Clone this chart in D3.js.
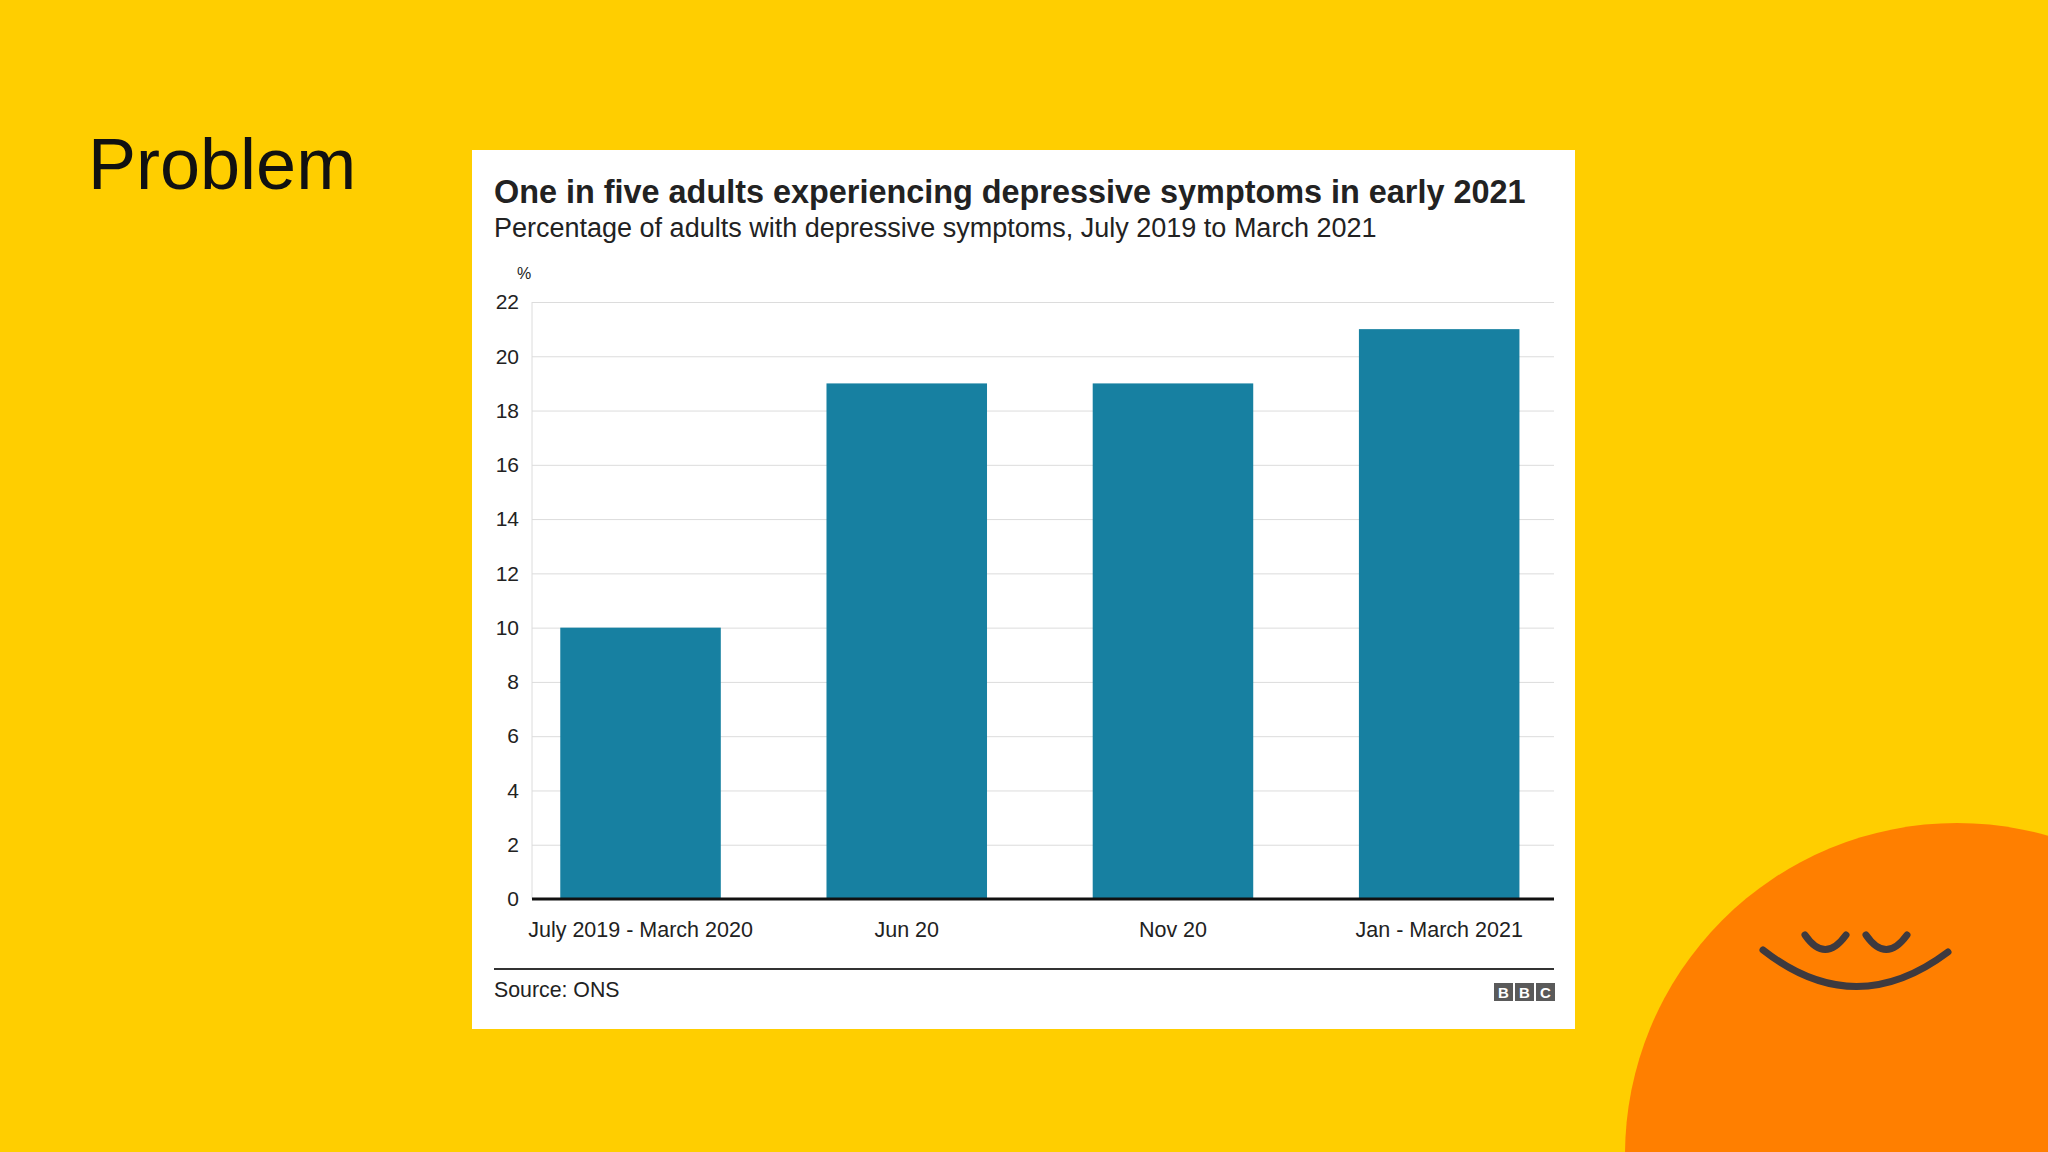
<!doctype html>
<html>
  <head>
    <script src="https://cdn.jsdelivr.net/npm/d3@7/dist/d3.min.js"></script>
    <style>
      body, html {
        margin: 0;
        background: #ffce00;
      }
      svg {
        display: block;
        font-family: "Liberation Sans", Arial, sans-serif;
      }
      .grid line {
        stroke: #dcdcdc;
        stroke-width: 1px;
      }
      .grid path {
        display: none;
      }
      .grid text {
        font-size: 21px;
        fill: #222;
      }
      .xaxis path, .xaxis line {
        display: none;
      }
      .xaxis text {
        font-size: 21.5px;
        fill: #222;
      }
    </style>
  </head>
  <body>
    <svg width="2048" height="1152"></svg>
    <script>
      var categories = ["July 2019 - March 2020", "Jun 20", "Nov 20", "Jan - March 2021"];
      var values = [10, 19, 19, 21];
      var yTicks = [0, 2, 4, 6, 8, 10, 12, 14, 16, 18, 20, 22];

      var svg = d3.select("svg");

      // orange blob with the sleepy face, bottom right
      svg.append("circle")
        .attr("cx", 1957).attr("cy", 1155).attr("r", 332)
        .attr("fill", "#ff7f00");

      var face = svg.append("g")
        .attr("fill", "none")
        .attr("stroke", "#3e3a3f")
        .attr("stroke-width", 7)
        .attr("stroke-linecap", "round");
      face.append("path").attr("d", "M1763,950 Q1855,1022 1948,952");
      face.append("path").attr("d", "M1805,935 Q1825,964 1846,935");
      face.append("path").attr("d", "M1866,935 Q1886,964 1907,935");

      svg.append("text")
        .attr("x", 88).attr("y", 189)
        .attr("font-size", 72)
        .attr("fill", "#111")
        .text("Problem");

      // white card
      svg.append("rect")
        .attr("x", 472).attr("y", 150)
        .attr("width", 1103).attr("height", 879)
        .attr("fill", "#fff");

      svg.append("text")
        .attr("x", 494).attr("y", 203)
        .attr("font-size", 32.4).attr("font-weight", "bold")
        .attr("fill", "#222")
        .text("One in five adults experiencing depressive symptoms in early 2021");

      svg.append("text")
        .attr("x", 494).attr("y", 237)
        .attr("font-size", 27)
        .attr("fill", "#222")
        .text("Percentage of adults with depressive symptoms, July 2019 to March 2021");

      var plotLeft = 532, plotRight = 1554, plotTop = 302, plotBottom = 899;

      var y = d3.scaleLinear().domain([0, 22]).range([plotBottom, plotTop]);
      var x = d3.scaleBand().domain(categories)
        .range([plotLeft, plotRight]).paddingInner(0.397).paddingOuter(0.118).align(0.45);

      svg.append("text")
        .attr("x", 517).attr("y", 279)
        .attr("font-size", 16).attr("fill", "#222")
        .text("%");

      svg.append("g")
        .attr("class", "grid")
        .attr("transform", "translate(" + plotLeft + ",0)")
        .call(d3.axisLeft(y).tickValues(yTicks).tickSize(-(plotRight - plotLeft)).tickPadding(13));

      // light vertical line on the left edge of the plot
      svg.append("line")
        .attr("x1", plotLeft).attr("x2", plotLeft)
        .attr("y1", y(22)).attr("y2", y(0))
        .attr("stroke", "#dcdcdc");

      svg.selectAll("rect.bar")
        .data(values)
        .enter()
        .append("rect")
          .attr("class", "bar")
          .attr("x", (d, i) => x(categories[i]))
          .attr("y", d => y(d))
          .attr("width", x.bandwidth())
          .attr("height", d => y(0) - y(d))
          .attr("fill", "#1780a1");

      svg.append("line")
        .attr("x1", plotLeft).attr("x2", plotRight)
        .attr("y1", y(0)).attr("y2", y(0))
        .attr("stroke", "#111").attr("stroke-width", 3);

      svg.append("g")
        .attr("class", "xaxis")
        .attr("transform", "translate(0," + y(0) + ")")
        .call(d3.axisBottom(x).tickSize(0).tickPadding(23));

      // footer
      svg.append("line")
        .attr("x1", 494).attr("x2", 1554)
        .attr("y1", 969).attr("y2", 969)
        .attr("stroke", "#333").attr("stroke-width", 2);

      svg.append("text")
        .attr("x", 494).attr("y", 997)
        .attr("font-size", 21.3).attr("fill", "#222")
        .text("Source: ONS");

      var logo = svg.append("g").attr("transform", "translate(1494,983)");
      ["B", "B", "C"].forEach(function (letter, i) {
        logo.append("rect")
          .attr("x", i * 21).attr("y", 0)
          .attr("width", 19).attr("height", 18)
          .attr("fill", "#5a5a5a");
        logo.append("text")
          .attr("x", i * 21 + 9.5).attr("y", 15)
          .attr("text-anchor", "middle")
          .attr("font-size", 15).attr("font-weight", "bold")
          .attr("fill", "#fff")
          .text(letter);
      });
    </script>
  </body>
</html>
